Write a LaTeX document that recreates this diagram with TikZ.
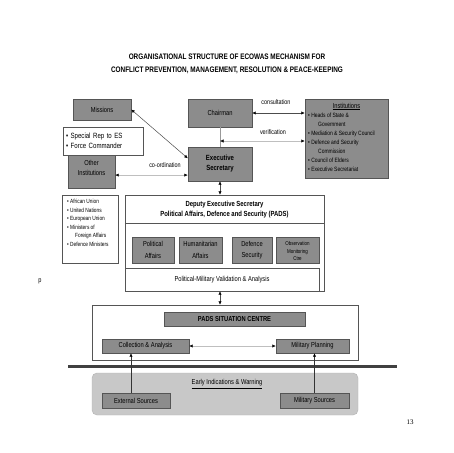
\documentclass[tikz,border=0pt]{standalone}
\usepackage{fontspec}
\setmainfont{Liberation Sans}[FakeStretch=0.8]
\newfontfamily\pagefont{Liberation Serif}
\usetikzlibrary{arrows.meta}
\definecolor{boxgray}{HTML}{8C8C8C}
\definecolor{lightbg}{HTML}{C8C8C8}
\definecolor{edgegray}{HTML}{555555}

\begin{document}
\begin{tikzpicture}[x=1pt, y=-1pt,
    wh/.style 2 args={minimum width=#1pt, minimum height=#2pt},
    box/.style={draw=edgegray, fill=boxgray, inner sep=0pt, align=center, font=\fontsize{7.2}{8.5}\selectfont},
    frame/.style={draw=edgegray, fill=white, inner sep=0pt, align=center, font=\fontsize{7.2}{8.5}\selectfont},
    dbl/.style={draw=black!70, line width=0.5pt, {Latex[length=3.5pt, width=3.2pt, color=black]}-{Latex[length=3.5pt, width=3.2pt, color=black]}},
    dblfaint/.style={dbl, draw=black!25},
    up/.style={draw=black!80, line width=0.5pt, -{Latex[length=3.5pt, width=3.2pt, color=black]}},
    lbl/.style={inner sep=0pt, font=\fontsize{6.8}{8}\selectfont},
    list/.style={inner sep=0pt, anchor=north west, align=left}]

    \fill[white] (0,0) rectangle (453,453);
    \useasboundingbox (0,0) rectangle (453,453);

    % Title
    \node[inner sep=0pt, align=center, font=\bfseries\fontsize{8}{12.5}\selectfont] (title) at (227,64)
          {ORGANISATIONAL STRUCTURE OF ECOWAS MECHANISM FOR\\CONFLICT PREVENTION, MANAGEMENT, RESOLUTION \& PEACE-KEEPING};

    % Top row
    \node[box, wh={58}{21}] (missions) at (102,109.5) {Missions};
    \node[box, wh={64}{28}] (chairman) at (220,113) {Chairman};
    \node[box, wh={64}{34}, font=\bfseries\fontsize{7.5}{10}\selectfont] (es) at (220,164) {Executive\\Secretary};

    % Institutions
    \node[box, wh={83}{79}] (inst) at (346.5,138.5) {};
    \node[lbl, font=\fontsize{7.2}{8}\selectfont] (insttitle) at (346.5,106.5) {\underline{Institutions}};
    \node[list, font=\fontsize{6.2}{9}\selectfont] (instlist) at (308,112.8)
          {• Heads of State \&\\\hspace{10pt}Government\\• Mediation \& Security Council\\• Defence and Security\\\hspace{10pt}Commission\\• Council of Elders\\• Executive Secretariat};

    % Other institutions and special representatives
    \node[box, wh={47}{48}] (other) at (91.5,164) {};
    \node[lbl, align=center, font=\fontsize{7.2}{9.5}\selectfont] (otherlbl) at (91.5,168) {Other\\Institutions};
    \node[frame, wh={80}{28}, text width=74pt, align=left, font=\fontsize{7.6}{10.5}\selectfont] (specrep) at (103,141)
          {• Special Rep to ES\\• Force Commander};

    % Partners
    \node[frame, wh={56}{68}] (partners) at (90,229) {};
    \node[list, font=\fontsize{6}{8.6}\selectfont] (partlist) at (67,199)
          {• African Union\\• United Nations\\• European Union\\• Ministers of\\\hspace{8pt}Foreign Affairs\\• Defence Ministers};

    % Top links
    \draw[dbl] (missions.east) -- (es.170);
    \draw[black!40] (chairman.south) -- (es.north);
    \draw[dbl] (chairman.east) -- (chairman.east -| inst.west);
    \node[lbl] (consult) at (276,102) {consultation};
    \draw[dblfaint] (chairman.south |- 0,141) coordinate (cv) -- (cv -| inst.west);
    \node[lbl] (verif) at (273,132) {verification};
    \draw[dblfaint] (es.199) -- (es.199 -| other.east);
    \node[lbl] (coord) at (165,165) {co-ordination};

    % PADS
    \node[frame, wh={199}{96}] (pads) at (224.5,243) {};
    \draw[edgegray] (pads.north west) ++(0,28) -- ++(199,0);
    \node[lbl, align=center, font=\bfseries\fontsize{7.4}{10}\selectfont] (deputy) at (224.5,210)
          {Deputy Executive Secretary\\Political Affairs, Defence and Security (PADS)};
    \node[box, wh={42}{26}, font=\fontsize{7.2}{11.5}\selectfont] (polaff) at (153,250) {Political\\Affairs};
    \node[box, wh={43}{26}, font=\fontsize{7.2}{11.5}\selectfont] (humaff) at (200.5,250) {Humanitarian\\Affairs};
    \node[box, wh={40}{26}, font=\fontsize{7.2}{11.5}\selectfont] (defsec) at (252,250) {Defence\\Security};
    \node[box, wh={43}{26}] (obs) at (297.5,250) {};
    \begin{scope}
        \clip (obs.north west) rectangle (obs.south east);
        \node[lbl, align=center, font=\fontsize{5.6}{7.5}\selectfont] (obslbl) at (297.5,251) {Observation\\Monitoring\\Ctre};
    \end{scope}
    \node[frame, wh={194}{23}] (valid) at (222,279.5) {Political-Military Validation \& Analysis};
    \draw[dbl] (es.south) -- (es.south |- pads.north);

    % Situation centre
    \node[frame, wh={266}{55}] (sitc) at (225,332.5) {};
    \draw[dbl] (es.south |- pads.south) -- (es.south |- sitc.north);
    \node[box, wh={141}{14}, font=\bfseries\fontsize{7.2}{8}\selectfont] (sitctitle) at (234.5,319) {PADS SITUATION CENTRE};
    \node[box, wh={87}{14}] (coll) at (145.5,346) {Collection \& Analysis};
    \node[box, wh={73}{14}] (milplan) at (312.5,346) {Military Planning};
    \draw[dblfaint] (coll.east) -- (milplan.west);

    % Divider
    \draw[line width=3pt, black!75] (68,366) -- (397,366);

    % Early warning
    \node[draw=black!30, fill=lightbg, rounded corners=5pt, wh={266}{42}] (early) at (225,394) {};
    \node[lbl, font=\fontsize{7.2}{8}\selectfont] (earlytitle) at (227,384) {\underline{Early Indications \& Warning}};
    \node[box, wh={68}{15}] (extsrc) at (136,400.5) {External Sources};
    \node[box, wh={69}{15}] (milsrc) at (314.5,400.5) {Military Sources};
    \coordinate (extup) at ([xshift=-5pt]extsrc.north);
    \draw[up] (extup) -- (extup |- coll.south);
    \draw[up] (milsrc.north) -- (milsrc.north |- milplan.south);

    % Page marks
    \node[lbl, font=\fontsize{7}{8}\selectfont] (stray) at (40,281) {p};
    \node[lbl, font=\pagefont\fontsize{7}{8}\selectfont] (pagenum) at (410,422) {13};

\end{tikzpicture}
\end{document}
